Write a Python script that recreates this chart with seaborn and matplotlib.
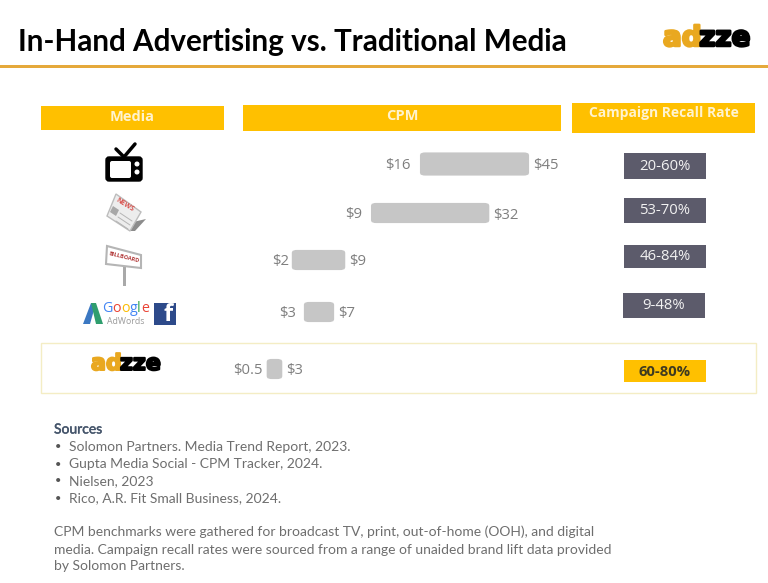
import matplotlib
matplotlib.use('Agg')

import matplotlib.patheffects as pe
import matplotlib.pyplot as plt
import pandas as pd
import seaborn as sns
from matplotlib.patches import Circle, FancyBboxPatch, Polygon, Rectangle

# chart values
media = ["TV", "Print", "OOH", "Digital", "adzze"]
cpm_low = ["$16", "$9", "$2", "$3", "$0.5"]
cpm_high = ["$45", "$32", "$9", "$7", "$3"]
recall = ["20-60%", "53-70%", "46-84%", "9-48%", "60-80%"]

# the bars in the picture are not on a common $ scale, so these are read off
# as position along the CPM header band (0-100), not computed from the labels
bar_start = [55.7, 40.3, 15.4, 19.2, 7.5]
bar_end = [89.9, 77.4, 32.1, 28.6, 12.3]

sources = ["Solomon Partners. Media Trend Report, 2023.",
           "Gupta Media Social - CPM Tracker, 2024.",
           "Nielsen, 2023",
           "Rico, A.R. Fit Small Business, 2024."]
notes = ["CPM benchmarks were gathered for broadcast TV, print, out-of-home (OOH), and digital",
         "media. Campaign recall rates were sourced from a range of unaided brand lift data provided",
         "by Solomon Partners."]

# layout (pixels of the 768x583 slide)
W, H = 768, 583
row_y = [164, 213, 260, 312, 369]
left_gap = [10, 9, 3, 8, 4]
bar_h = [23, 20, 20, 20, 20]
pill_x = [624, 624, 624, 623, 624]
pill_y = [166, 210, 256, 305, 371]
pill_h = [26, 25, 23, 25, 22]
GOLD = "#FFC000"
LINE = "#E5A93B"
DARK = "#5C5B6B"
BAR = "#C6C6C6"
GREY = "#7F7F7F"

sns.set_theme(style="white")
plt.rcParams['font.family'] = ['Open Sans', 'DejaVu Sans']

fig = plt.figure(figsize=(W / 100, H / 100), dpi=100, facecolor="white")
ax = fig.add_axes([0, 0, 1, 1])
ax.set_xlim(0, W)
ax.set_ylim(H, 0)
ax.axis('off')

# title and logo
ax.text(18, 41.5, "In-Hand Advertising vs. Traditional Media", fontsize=21.3, fontweight="bold",
        family="Lato", color="black", va="center", ha="left")
ax.add_patch(Rectangle((0, 65), W, 3, color=LINE, lw=0))


def logo(x, y, size):
    stroke = [pe.withStroke(linewidth=size * 0.09, foreground="black")]
    t = ax.text(x, y, "ad", fontsize=size, fontweight="bold", family="DejaVu Sans", color="#E9A820",
                va="center", ha="left",
                path_effects=[pe.withStroke(linewidth=size * 0.09, foreground="#E9A820")])
    fig.canvas.draw()
    ext = t.get_window_extent()
    ax.text(ext.x1 - size * 0.12, y, "zze", fontsize=size, fontweight="bold", family="DejaVu Sans",
            color="black", va="center", ha="left", path_effects=stroke)


logo(663, 38, 20)
logo(91, 364, 16)

# header bands
for x0, x1, y0, y1, label, ty, fs in [(41, 224, 106, 130, "Media", 117, 10.5),
                                      (243, 561, 105, 131, "CPM", 116.5, 10.5),
                                      (572, 755, 103, 133, "Campaign Recall Rate", 113.5, 10)]:
    ax.add_patch(Rectangle((x0, y0), x1 - x0, y1 - y0, color=GOLD, lw=0))
    ax.text((x0 + x1) / 2, ty, label, color="#FFF3CF", fontsize=fs, fontweight="bold",
            ha="center", va="center")

# adzze row frame
ax.add_patch(Rectangle((41, 343), 715, 50, fc="none", ec="#F4EDC4", lw=1))

# CPM bars, on their own axes that span the header band
cpm_ax = fig.add_axes([243 / W, 0, (561 - 243) / W, 1], facecolor="none")
df = pd.DataFrame({"media": media, "start": bar_start, "end": bar_end})
df["width"] = df["end"] - df["start"]
sns.barplot(data=df, x="width", y="media", left=df["start"], orient="h", color=BAR, saturation=1, ax=cpm_ax)
cpm_ax.set_xlim(0, 100)
cpm_ax.set_ylim(H, 0)
cpm_ax.axis('off')
px = 318 / 100
for i, p in enumerate(list(cpm_ax.patches)):
    x, w = p.get_x(), p.get_width()
    p.remove()
    cpm_ax.add_patch(FancyBboxPatch((x + 0.6, row_y[i] - bar_h[i] / 2 + 2), w - 1.2, bar_h[i] - 4,
                                    boxstyle="round,pad=0,rounding_size=1", mutation_aspect=1,
                                    fc=BAR, ec=BAR, lw=3))
    ax.text(243 + x * px - left_gap[i], row_y[i] + 1.5, cpm_low[i], color=GREY, fontsize=10.7, ha="right", va="center")
    ax.text(243 + (x + w) * px + 4, row_y[i] + (2.5 if i == 1 else 1.5), cpm_high[i], color=GREY, fontsize=10.7,
            ha="left", va="center")

# recall pills
for i, label in enumerate(recall):
    hi = i == len(recall) - 1
    ax.add_patch(Rectangle((pill_x[i], pill_y[i] - pill_h[i] / 2), 82, pill_h[i], color=GOLD if hi else DARK, lw=0))
    ax.text(pill_x[i] + 41, pill_y[i] + 0.5, label, color="#3F3A20" if hi else "#F2F2F2", fontsize=10.7,
            fontweight="bold" if hi else "normal", ha="center", va="center")

# TV icon
ax.plot([116, 124, 135], [149, 157, 144], color="black", lw=2.5, solid_capstyle="round")
ax.add_patch(FancyBboxPatch((106, 157), 36, 24, boxstyle="round,pad=0,rounding_size=3", fc="black", ec="black", lw=1))
ax.add_patch(FancyBboxPatch((110, 161), 21, 17, boxstyle="round,pad=0,rounding_size=2", fc="white", ec="none"))
ax.add_patch(Circle((137, 164), 1.8, color="white"))
ax.add_patch(Circle((137, 172), 1.8, color="white"))

# newspaper icon
ax.add_patch(Polygon([(133, 222), (146, 219), (135, 231), (130, 231)], fc="#8C8C8C", ec="none"))
ax.add_patch(Polygon([(116, 194), (141, 212), (130, 231), (107, 216)], fc="#EDEDED", ec="#BDBDBD", lw=1))
ax.text(125, 205, "NEWS", color="#D9534F", fontsize=5, fontweight="bold", rotation=-32, ha="center", va="center")
ax.add_patch(Polygon([(113, 206), (119, 210), (116, 216), (110, 212)], fc="#A8A8A8", ec="none"))
for k in range(3):
    ax.plot([120 - k * 2, 132 - k * 2], [213 + k * 4, 221 + k * 4], color="#B5B5B5", lw=0.7)

# billboard icon
ax.add_patch(Rectangle((123, 266), 3, 20, fc="#A9A9A9", ec="none"))
ax.add_patch(Polygon([(107, 246), (141, 255), (141, 268), (106, 264)], fc="white", ec="#B5B5B5", lw=1.5))
ax.text(124, 257, "BILLBOARD", color="#B23A3A", fontsize=4, fontweight="bold", rotation=-14, ha="center", va="center")

# Google AdWords and Facebook
ax.add_patch(Polygon([(83, 324), (91, 303), (96, 303), (90, 324)], fc="#3B78C2", ec="none"))
ax.add_patch(Polygon([(91, 303), (96, 303), (103, 324), (96, 324)], fc="#2F9E6E", ec="none"))
x_g = 102
for ch, col in zip("Google", ["#4285F4", "#EA4335", "#FBBC05", "#4285F4", "#34A853", "#EA4335"]):
    t = ax.text(x_g, 309, ch, color=col, fontsize=10.3, ha="left", va="center")
    fig.canvas.draw()
    x_g += t.get_window_extent().width
ax.text(107, 321, "AdWords", color="#9A9A9A", fontsize=6.3, ha="left", va="center")
ax.add_patch(Rectangle((154, 303), 22, 22, color="#2D4A8A", lw=0))
ax.text(168, 315, "f", color="white", fontsize=17, fontweight="bold", ha="center", va="center")

# sources and notes
ax.text(54, 429.5, "Sources", color="#44546A", fontsize=10, family="Lato", va="center",
        path_effects=[pe.withStroke(linewidth=0.3, foreground="#44546A")])
for y, line in zip([447, 464, 481, 498], sources):
    ax.text(54.5, y, "•", color="#555555", fontsize=8, family="Lato", va="center")
    ax.text(69, y, line, color="#6E6E6E", fontsize=10, family="Lato", va="center")
for y, line in zip([532, 550, 566], notes):
    ax.text(54, y, line, color="#6E6E6E", fontsize=10, family="Lato", va="center")

fig.savefig("out.png", dpi=100)
plt.close(fig)
